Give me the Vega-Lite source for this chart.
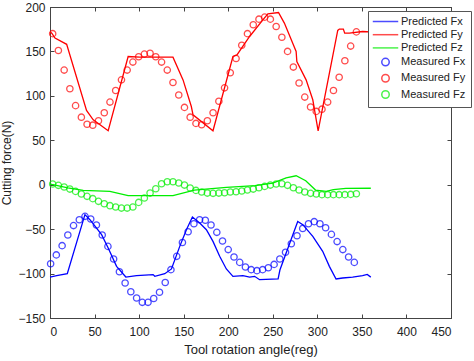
{
  "$schema": "https://vega.github.io/schema/vega-lite/v6.json",
  "width": 401,
  "height": 311,
  "autosize": {"type": "none"},
  "padding": {"left": 50, "top": 7, "right": 23, "bottom": 43},
  "background": "white",
  "config": {
    "view": {"stroke": "#444444", "strokeWidth": 1},
    "font": "Liberation Sans",
    "axis": {
      "grid": false,
      "domainColor": "#444444",
      "tickColor": "#444444",
      "tickSize": -4,
      "labelColor": "#222222",
      "labelFontSize": 12,
      "labelFont": "Liberation Sans",
      "titleFont": "Liberation Sans",
      "titleFontSize": 13,
      "titleFontWeight": "normal",
      "titleColor": "#222222"
    },
    "legend": {
      "orient": "none",
      "legendX": 318,
      "legendY": 4,
      "padding": 5,
      "fillColor": "white",
      "strokeColor": "#555555",
      "symbolSize": 56,
      "symbolStrokeWidth": 1.5,
      "symbolOffset": 7,
      "labelOffset": 10,
      "labelFont": "Liberation Sans",
      "labelFontSize": 11,
      "labelColor": "#222222",
      "rowPadding": 1.2
    }
  },
  "datasets": {
    "pred": [
      {"series": "Predicted Fx", "angle": 0, "force": -104},
      {"series": "Predicted Fx", "angle": 7.5, "force": -102.4},
      {"series": "Predicted Fx", "angle": 19.4, "force": -100.1},
      {"series": "Predicted Fx", "angle": 39.2, "force": -33.7},
      {"series": "Predicted Fx", "angle": 44.8, "force": -39.4},
      {"series": "Predicted Fx", "angle": 57.9, "force": -56.2},
      {"series": "Predicted Fx", "angle": 65.3, "force": -71.2},
      {"series": "Predicted Fx", "angle": 74.7, "force": -91.9},
      {"series": "Predicted Fx", "angle": 85.1, "force": -103.9},
      {"series": "Predicted Fx", "angle": 97.1, "force": -102.4},
      {"series": "Predicted Fx", "angle": 115.7, "force": -101.2},
      {"series": "Predicted Fx", "angle": 117.6, "force": -103.1},
      {"series": "Predicted Fx", "angle": 128.8, "force": -100.1},
      {"series": "Predicted Fx", "angle": 136.3, "force": -94.8},
      {"series": "Predicted Fx", "angle": 145.6, "force": -69.4},
      {"series": "Predicted Fx", "angle": 153.1, "force": -50.6},
      {"series": "Predicted Fx", "angle": 159.8, "force": -36.3},
      {"series": "Predicted Fx", "angle": 168, "force": -43.1},
      {"series": "Predicted Fx", "angle": 175.5, "force": -50.6},
      {"series": "Predicted Fx", "angle": 182.9, "force": -63.8},
      {"series": "Predicted Fx", "angle": 190.4, "force": -80.6},
      {"series": "Predicted Fx", "angle": 197.9, "force": -94.8},
      {"series": "Predicted Fx", "angle": 205.3, "force": -103.1},
      {"series": "Predicted Fx", "angle": 216.5, "force": -102.4},
      {"series": "Predicted Fx", "angle": 224, "force": -103.9},
      {"series": "Predicted Fx", "angle": 229.6, "force": -103.1},
      {"series": "Predicted Fx", "angle": 235.2, "force": -106.9},
      {"series": "Predicted Fx", "angle": 256, "force": -106},
      {"series": "Predicted Fx", "angle": 258, "force": -96},
      {"series": "Predicted Fx", "angle": 278, "force": -41.3},
      {"series": "Predicted Fx", "angle": 283.7, "force": -45},
      {"series": "Predicted Fx", "angle": 294.9, "force": -58.2},
      {"series": "Predicted Fx", "angle": 306, "force": -75},
      {"series": "Predicted Fx", "angle": 313.5, "force": -91.9},
      {"series": "Predicted Fx", "angle": 321, "force": -106.1},
      {"series": "Predicted Fx", "angle": 328.4, "force": -105},
      {"series": "Predicted Fx", "angle": 339.6, "force": -103.9},
      {"series": "Predicted Fx", "angle": 350.8, "force": -102.4},
      {"series": "Predicted Fx", "angle": 356, "force": -101},
      {"series": "Predicted Fx", "angle": 360, "force": -104},
      {"series": "Predicted Fy", "angle": 0, "force": 172},
      {"series": "Predicted Fy", "angle": 2, "force": 170.6},
      {"series": "Predicted Fy", "angle": 5.6, "force": 165},
      {"series": "Predicted Fy", "angle": 18.7, "force": 158},
      {"series": "Predicted Fy", "angle": 41, "force": 83.6},
      {"series": "Predicted Fy", "angle": 48.5, "force": 73},
      {"series": "Predicted Fy", "angle": 65.3, "force": 60.7},
      {"series": "Predicted Fy", "angle": 87.7, "force": 144.3},
      {"series": "Predicted Fy", "angle": 100.8, "force": 143.6},
      {"series": "Predicted Fy", "angle": 138, "force": 143.6},
      {"series": "Predicted Fy", "angle": 149.3, "force": 118},
      {"series": "Predicted Fy", "angle": 158.6, "force": 88},
      {"series": "Predicted Fy", "angle": 160.5, "force": 78.7},
      {"series": "Predicted Fy", "angle": 182.9, "force": 60.7},
      {"series": "Predicted Fy", "angle": 205.3, "force": 144.3},
      {"series": "Predicted Fy", "angle": 209.8, "force": 146},
      {"series": "Predicted Fy", "angle": 224, "force": 166.8},
      {"series": "Predicted Fy", "angle": 238.9, "force": 185.6},
      {"series": "Predicted Fy", "angle": 244.5, "force": 192.4},
      {"series": "Predicted Fy", "angle": 256.4, "force": 193.8},
      {"series": "Predicted Fy", "angle": 263, "force": 181.9},
      {"series": "Predicted Fy", "angle": 276.2, "force": 150},
      {"series": "Predicted Fy", "angle": 277, "force": 138.7},
      {"series": "Predicted Fy", "angle": 287.4, "force": 118},
      {"series": "Predicted Fy", "angle": 294.9, "force": 95.6},
      {"series": "Predicted Fy", "angle": 300.9, "force": 60.7},
      {"series": "Predicted Fy", "angle": 322.9, "force": 173.6},
      {"series": "Predicted Fy", "angle": 324.7, "force": 175.1},
      {"series": "Predicted Fy", "angle": 329.2, "force": 175.1},
      {"series": "Predicted Fy", "angle": 330.7, "force": 170.6},
      {"series": "Predicted Fy", "angle": 336, "force": 170.6},
      {"series": "Predicted Fy", "angle": 350.8, "force": 172.4},
      {"series": "Predicted Fy", "angle": 360, "force": 172},
      {"series": "Predicted Fz", "angle": 0, "force": 1},
      {"series": "Predicted Fz", "angle": 2, "force": 0.5},
      {"series": "Predicted Fz", "angle": 20, "force": -3.5},
      {"series": "Predicted Fz", "angle": 37.3, "force": -6.4},
      {"series": "Predicted Fz", "angle": 67.2, "force": -7.5},
      {"series": "Predicted Fz", "angle": 87.7, "force": -12.2},
      {"series": "Predicted Fz", "angle": 138, "force": -12.2},
      {"series": "Predicted Fz", "angle": 162, "force": -6},
      {"series": "Predicted Fz", "angle": 198, "force": -3},
      {"series": "Predicted Fz", "angle": 230, "force": -1},
      {"series": "Predicted Fz", "angle": 250, "force": 1.9},
      {"series": "Predicted Fz", "angle": 265, "force": 7.8},
      {"series": "Predicted Fz", "angle": 276.2, "force": 10.1},
      {"series": "Predicted Fz", "angle": 287, "force": 4.5},
      {"series": "Predicted Fz", "angle": 298, "force": -6},
      {"series": "Predicted Fz", "angle": 310, "force": -7.5},
      {"series": "Predicted Fz", "angle": 318, "force": -5.5},
      {"series": "Predicted Fz", "angle": 332, "force": -4.1},
      {"series": "Predicted Fz", "angle": 360, "force": -4}
    ],
    "meas": [
      {"series": "Measured Fx", "angle": 0.7, "force": -89},
      {"series": "Measured Fx", "angle": 7.1, "force": -79},
      {"series": "Measured Fx", "angle": 13.6, "force": -68.6},
      {"series": "Measured Fx", "angle": 20, "force": -56.6},
      {"series": "Measured Fx", "angle": 26.4, "force": -46},
      {"series": "Measured Fx", "angle": 32.9, "force": -39.4},
      {"series": "Measured Fx", "angle": 39.3, "force": -35.6},
      {"series": "Measured Fx", "angle": 45.7, "force": -38.6},
      {"series": "Measured Fx", "angle": 52.1, "force": -45.4},
      {"series": "Measured Fx", "angle": 58.6, "force": -56.6},
      {"series": "Measured Fx", "angle": 65, "force": -69.4},
      {"series": "Measured Fx", "angle": 71.4, "force": -83.6},
      {"series": "Measured Fx", "angle": 77.9, "force": -98},
      {"series": "Measured Fx", "angle": 84.3, "force": -110.6},
      {"series": "Measured Fx", "angle": 90.7, "force": -120.4},
      {"series": "Measured Fx", "angle": 97.2, "force": -127.5},
      {"series": "Measured Fx", "angle": 103.6, "force": -132.4},
      {"series": "Measured Fx", "angle": 110, "force": -132.4},
      {"series": "Measured Fx", "angle": 116.4, "force": -128},
      {"series": "Measured Fx", "angle": 122.9, "force": -121},
      {"series": "Measured Fx", "angle": 129.3, "force": -110},
      {"series": "Measured Fx", "angle": 135.7, "force": -95.6},
      {"series": "Measured Fx", "angle": 142.2, "force": -80.6},
      {"series": "Measured Fx", "angle": 148.6, "force": -65},
      {"series": "Measured Fx", "angle": 155, "force": -53},
      {"series": "Measured Fx", "angle": 161.5, "force": -44},
      {"series": "Measured Fx", "angle": 167.9, "force": -39.4},
      {"series": "Measured Fx", "angle": 174.3, "force": -40},
      {"series": "Measured Fx", "angle": 180.7, "force": -45.4},
      {"series": "Measured Fx", "angle": 187.2, "force": -53.6},
      {"series": "Measured Fx", "angle": 193.6, "force": -63.4},
      {"series": "Measured Fx", "angle": 200, "force": -73},
      {"series": "Measured Fx", "angle": 206.5, "force": -81.4},
      {"series": "Measured Fx", "angle": 212.9, "force": -87.4},
      {"series": "Measured Fx", "angle": 219.3, "force": -92.6},
      {"series": "Measured Fx", "angle": 225.8, "force": -95.6},
      {"series": "Measured Fx", "angle": 232.2, "force": -96.7},
      {"series": "Measured Fx", "angle": 238.6, "force": -95.6},
      {"series": "Measured Fx", "angle": 245, "force": -93.4},
      {"series": "Measured Fx", "angle": 251.5, "force": -89.7},
      {"series": "Measured Fx", "angle": 257.9, "force": -83.6},
      {"series": "Measured Fx", "angle": 264.3, "force": -76},
      {"series": "Measured Fx", "angle": 270.8, "force": -66.4},
      {"series": "Measured Fx", "angle": 277.2, "force": -57.4},
      {"series": "Measured Fx", "angle": 283.6, "force": -49.2},
      {"series": "Measured Fx", "angle": 290.1, "force": -43.9},
      {"series": "Measured Fx", "angle": 296.5, "force": -41.6},
      {"series": "Measured Fx", "angle": 302.9, "force": -43.9},
      {"series": "Measured Fx", "angle": 309.3, "force": -48.4},
      {"series": "Measured Fx", "angle": 315.8, "force": -55.9},
      {"series": "Measured Fx", "angle": 322.2, "force": -64},
      {"series": "Measured Fx", "angle": 328.6, "force": -73},
      {"series": "Measured Fx", "angle": 335.1, "force": -81.4},
      {"series": "Measured Fx", "angle": 341.5, "force": -87.4},
      {"series": "Measured Fy", "angle": 3, "force": 170},
      {"series": "Measured Fy", "angle": 9.4, "force": 151},
      {"series": "Measured Fy", "angle": 15.9, "force": 129},
      {"series": "Measured Fy", "angle": 22.3, "force": 108},
      {"series": "Measured Fy", "angle": 28.7, "force": 89},
      {"series": "Measured Fy", "angle": 35.2, "force": 76},
      {"series": "Measured Fy", "angle": 41.6, "force": 68},
      {"series": "Measured Fy", "angle": 48, "force": 67},
      {"series": "Measured Fy", "angle": 54.4, "force": 72},
      {"series": "Measured Fy", "angle": 60.9, "force": 81},
      {"series": "Measured Fy", "angle": 67.3, "force": 93},
      {"series": "Measured Fy", "angle": 73.7, "force": 106},
      {"series": "Measured Fy", "angle": 80.2, "force": 118},
      {"series": "Measured Fy", "angle": 86.6, "force": 129},
      {"series": "Measured Fy", "angle": 93, "force": 138},
      {"series": "Measured Fy", "angle": 99.5, "force": 144},
      {"series": "Measured Fy", "angle": 105.9, "force": 147},
      {"series": "Measured Fy", "angle": 112.3, "force": 148},
      {"series": "Measured Fy", "angle": 118.7, "force": 144},
      {"series": "Measured Fy", "angle": 125.2, "force": 138},
      {"series": "Measured Fy", "angle": 131.6, "force": 129},
      {"series": "Measured Fy", "angle": 138, "force": 115},
      {"series": "Measured Fy", "angle": 144.5, "force": 101},
      {"series": "Measured Fy", "angle": 150.9, "force": 87},
      {"series": "Measured Fy", "angle": 157.3, "force": 76},
      {"series": "Measured Fy", "angle": 163.8, "force": 69},
      {"series": "Measured Fy", "angle": 170.2, "force": 67.5},
      {"series": "Measured Fy", "angle": 176.6, "force": 72},
      {"series": "Measured Fy", "angle": 183, "force": 81},
      {"series": "Measured Fy", "angle": 189.5, "force": 94},
      {"series": "Measured Fy", "angle": 195.9, "force": 109},
      {"series": "Measured Fy", "angle": 202.3, "force": 126},
      {"series": "Measured Fy", "angle": 208.8, "force": 142},
      {"series": "Measured Fy", "angle": 215.2, "force": 157},
      {"series": "Measured Fy", "angle": 221.6, "force": 170},
      {"series": "Measured Fy", "angle": 228.1, "force": 180},
      {"series": "Measured Fy", "angle": 234.5, "force": 186.3},
      {"series": "Measured Fy", "angle": 240.9, "force": 188.6},
      {"series": "Measured Fy", "angle": 247.3, "force": 186.3},
      {"series": "Measured Fy", "angle": 253.8, "force": 178},
      {"series": "Measured Fy", "angle": 260.2, "force": 166},
      {"series": "Measured Fy", "angle": 266.6, "force": 150},
      {"series": "Measured Fy", "angle": 273.1, "force": 132.4},
      {"series": "Measured Fy", "angle": 279.5, "force": 114.4},
      {"series": "Measured Fy", "angle": 285.9, "force": 98.6},
      {"series": "Measured Fy", "angle": 292.4, "force": 87.4},
      {"series": "Measured Fy", "angle": 298.8, "force": 82.5},
      {"series": "Measured Fy", "angle": 305.2, "force": 85},
      {"series": "Measured Fy", "angle": 311.6, "force": 93},
      {"series": "Measured Fy", "angle": 318.1, "force": 106},
      {"series": "Measured Fy", "angle": 324.5, "force": 121},
      {"series": "Measured Fy", "angle": 330.9, "force": 139.5},
      {"series": "Measured Fy", "angle": 337.4, "force": 156},
      {"series": "Measured Fy", "angle": 343.8, "force": 172},
      {"series": "Measured Fz", "angle": 3, "force": 0.8},
      {"series": "Measured Fz", "angle": 9.4, "force": -0.7},
      {"series": "Measured Fz", "angle": 15.9, "force": -2.6},
      {"series": "Measured Fz", "angle": 22.3, "force": -4.9},
      {"series": "Measured Fz", "angle": 28.7, "force": -7.5},
      {"series": "Measured Fz", "angle": 35.2, "force": -10.5},
      {"series": "Measured Fz", "angle": 41.6, "force": -13.1},
      {"series": "Measured Fz", "angle": 48, "force": -15.7},
      {"series": "Measured Fz", "angle": 54.4, "force": -18.7},
      {"series": "Measured Fz", "angle": 60.9, "force": -21.4},
      {"series": "Measured Fz", "angle": 67.3, "force": -23.6},
      {"series": "Measured Fz", "angle": 73.7, "force": -25.1},
      {"series": "Measured Fz", "angle": 80.2, "force": -26.3},
      {"series": "Measured Fz", "angle": 86.6, "force": -26.3},
      {"series": "Measured Fz", "angle": 93, "force": -25.1},
      {"series": "Measured Fz", "angle": 99.5, "force": -19.9},
      {"series": "Measured Fz", "angle": 105.9, "force": -15},
      {"series": "Measured Fz", "angle": 112.3, "force": -9.4},
      {"series": "Measured Fz", "angle": 118.7, "force": -4.5},
      {"series": "Measured Fz", "angle": 125.2, "force": 1.1},
      {"series": "Measured Fz", "angle": 131.6, "force": 3.4},
      {"series": "Measured Fz", "angle": 138, "force": 3.4},
      {"series": "Measured Fz", "angle": 144.5, "force": 1.9},
      {"series": "Measured Fz", "angle": 150.9, "force": -0.4},
      {"series": "Measured Fz", "angle": 157.3, "force": -3.7},
      {"series": "Measured Fz", "angle": 163.8, "force": -6.4},
      {"series": "Measured Fz", "angle": 170.2, "force": -8.2},
      {"series": "Measured Fz", "angle": 176.6, "force": -9.4},
      {"series": "Measured Fz", "angle": 183, "force": -9.7},
      {"series": "Measured Fz", "angle": 189.5, "force": -9.4},
      {"series": "Measured Fz", "angle": 195.9, "force": -9},
      {"series": "Measured Fz", "angle": 202.3, "force": -8.2},
      {"series": "Measured Fz", "angle": 208.8, "force": -7.9},
      {"series": "Measured Fz", "angle": 215.2, "force": -7.1},
      {"series": "Measured Fz", "angle": 221.6, "force": -6},
      {"series": "Measured Fz", "angle": 228.1, "force": -4.9},
      {"series": "Measured Fz", "angle": 234.5, "force": -3.4},
      {"series": "Measured Fz", "angle": 240.9, "force": -1.9},
      {"series": "Measured Fz", "angle": 247.3, "force": -0.4},
      {"series": "Measured Fz", "angle": 253.8, "force": 0.8},
      {"series": "Measured Fz", "angle": 260.2, "force": 1.1},
      {"series": "Measured Fz", "angle": 266.6, "force": -0.7},
      {"series": "Measured Fz", "angle": 273.1, "force": -3.4},
      {"series": "Measured Fz", "angle": 279.5, "force": -6},
      {"series": "Measured Fz", "angle": 285.9, "force": -8.2},
      {"series": "Measured Fz", "angle": 292.4, "force": -9.7},
      {"series": "Measured Fz", "angle": 298.8, "force": -10.5},
      {"series": "Measured Fz", "angle": 305.2, "force": -11.2},
      {"series": "Measured Fz", "angle": 311.6, "force": -11.2},
      {"series": "Measured Fz", "angle": 318.1, "force": -11.2},
      {"series": "Measured Fz", "angle": 324.5, "force": -11.2},
      {"series": "Measured Fz", "angle": 330.9, "force": -11.2},
      {"series": "Measured Fz", "angle": 337.4, "force": -10.9},
      {"series": "Measured Fz", "angle": 343.8, "force": -10.1}
    ]
  },
  "layer": [
    {
      "data": {"name": "pred"},
      "mark": {"type": "line", "strokeWidth": 1.3},
      "encoding": {
        "x": {
          "field": "angle", "type": "quantitative",
          "scale": {"domain": [0, 450], "nice": false, "zero": false},
          "axis": {"orient": "bottom", "values": [0, 50, 100, 150, 200, 250, 300, 350, 400, 450], "title": "Tool rotation angle(reg)", "labelPadding": 12, "titlePadding": 6}
        },
        "y": {
          "field": "force", "type": "quantitative",
          "scale": {"domain": [-150, 200], "nice": false, "zero": false},
          "axis": {"orient": "left", "values": [-150, -100, -50, 0, 50, 100, 150, 200], "title": "Cutting force(N)", "titleFontSize": 12, "labelPadding": 9, "titlePadding": 4}
        },
        "color": {
          "field": "series", "type": "nominal",
          "scale": {
            "domain": ["Predicted Fx", "Predicted Fy", "Predicted Fz", "Measured Fx", "Measured Fy", "Measured Fz"],
            "range": ["#0000ff", "#ff0000", "#00ee00", "#0000ff", "#ff0000", "#00ee00"]
          },
          "legend": {"title": null}
        }
      }
    },
    {
      "data": {"name": "meas"},
      "mark": {"type": "point", "filled": false, "size": 40, "strokeWidth": 1.3},
      "encoding": {
        "x": {
          "field": "angle", "type": "quantitative",
          "axis": {"orient": "top", "values": [0, 50, 100, 150, 200, 250, 300, 350, 400, 450], "labels": false, "title": null}
        },
        "y": {
          "field": "force", "type": "quantitative",
          "axis": {"orient": "right", "values": [-150, -100, -50, 0, 50, 100, 150, 200], "labels": false, "title": null}
        },
        "color": {"field": "series", "type": "nominal", "legend": {"title": null}},
        "shape": {
          "field": "series", "type": "nominal",
          "scale": {
            "domain": ["Predicted Fx", "Predicted Fy", "Predicted Fz", "Measured Fx", "Measured Fy", "Measured Fz"],
            "range": ["M-3.4,0H3.4", "M-3.4,0H3.4", "M-3.4,0H3.4", "circle", "circle", "circle"]
          },
          "legend": {"title": null}
        }
      }
    }
  ],
  "resolve": {"axis": {"x": "independent", "y": "independent"}}
}
